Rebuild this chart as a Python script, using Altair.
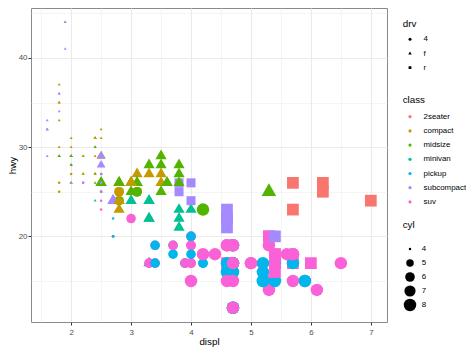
import altair as alt
import pandas as pd

# mpg data: displ, hwy, cyl, drv, class
displ = [1.8,1.8,2.0,2.0,2.8,2.8,3.1,1.8,1.8,2.0,2.0,2.8,2.8,3.1,3.1,2.8,3.1,4.2,
         5.3,5.3,5.3,5.7,6.0,5.7,5.7,6.2,6.2,7.0,5.3,5.3,5.7,6.5,2.4,2.4,3.1,3.5,3.6,
         2.4,3.0,3.3,3.3,3.3,3.3,3.3,3.8,3.8,3.8,4.0,3.7,3.7,3.9,3.9,4.7,4.7,4.7,5.2,5.2,
         3.9,4.7,4.7,4.7,5.2,5.7,5.9,4.7,4.7,4.7,4.7,4.7,4.7,5.2,5.2,5.7,5.9,
         4.6,5.4,5.4,4.0,4.0,4.0,4.0,4.6,5.0,4.2,4.2,4.6,4.6,4.6,5.4,5.4,3.8,3.8,4.0,4.0,4.6,4.6,4.6,4.6,5.4,
         1.6,1.6,1.6,1.6,1.6,1.8,1.8,1.8,2.0,
         2.4,2.4,2.4,2.4,2.5,2.5,3.3,2.0,2.0,2.0,2.0,2.7,2.7,2.7,
         3.0,3.7,4.0,4.7,4.7,4.7,5.7,6.1,
         4.0,4.2,4.4,4.6,
         5.4,5.4,5.4,
         4.0,4.0,4.6,5.0,
         2.4,2.4,2.5,2.5,3.5,3.5,3.0,3.0,3.5,3.3,3.3,4.0,5.6,
         3.1,3.8,3.8,3.8,5.3,
         2.5,2.5,2.5,2.5,2.5,2.5,2.2,2.2,2.5,2.5,2.5,2.5,2.5,2.5,
         2.7,2.7,3.4,3.4,4.0,4.7,2.2,2.2,2.4,2.4,3.0,3.0,3.5,2.2,2.2,2.4,2.4,3.0,3.0,3.3,
         1.8,1.8,1.8,1.8,1.8,4.7,5.7,2.7,2.7,2.7,3.4,3.4,4.0,4.0,
         2.0,2.0,2.0,2.0,2.8,1.9,2.0,2.0,2.0,2.0,2.5,2.5,2.8,2.8,
         1.9,1.9,2.0,2.0,2.5,2.5,1.8,1.8,2.0,2.0,2.8,2.8,3.6]

hwy = [29,29,31,30,26,26,27,26,25,28,27,25,25,25,25,24,25,23,
       20,15,20,17,17,26,23,26,25,24,19,14,15,17,27,30,26,29,26,
       24,24,22,22,24,24,17,22,21,23,23,19,18,17,17,19,19,12,17,15,
       17,17,12,17,16,18,15,16,12,17,17,16,12,15,16,17,15,
       17,17,18,17,19,17,19,19,17,17,17,16,16,17,15,17,26,25,26,24,21,22,23,22,20,
       33,32,32,29,32,34,36,36,29,
       26,27,30,31,26,26,28,26,29,28,29,24,24,24,
       22,19,20,17,12,19,18,14,
       15,18,18,15,
       17,16,18,
       17,19,19,17,
       29,27,31,32,27,26,26,25,25,17,17,20,18,
       26,26,27,28,25,
       25,24,27,25,26,23,26,26,26,26,25,27,25,27,
       20,20,19,17,20,19,29,27,31,31,26,26,28,27,29,31,31,26,26,27,
       30,33,35,37,35,15,18,20,20,22,17,19,18,20,
       29,26,29,29,24,44,29,26,29,29,29,29,23,24,
       44,41,29,26,28,29,29,29,28,29,26,26,26]

cyl = [4,4,4,4,6,6,6,4,4,4,4,6,6,6,6,6,6,8,
       8,8,8,8,8,8,8,8,8,8,8,8,8,8,4,4,6,6,6,
       4,6,6,6,6,6,6,6,6,6,6,6,6,6,6,8,8,8,8,8,
       6,8,8,8,8,8,8,8,8,8,8,8,8,8,8,8,8,
       8,8,8,6,6,6,6,8,8,6,6,8,8,8,8,8,6,6,6,6,8,8,8,8,8,
       4,4,4,4,4,4,4,4,4,
       4,4,4,4,6,6,6,4,4,4,4,6,6,6,
       6,6,6,8,8,8,8,8,
       8,8,8,8,
       8,8,8,
       6,6,8,8,
       4,4,4,4,6,6,6,6,6,6,6,6,8,
       6,6,6,6,8,
       4,4,4,4,4,4,4,4,4,4,4,4,4,4,
       4,4,6,6,6,8,4,4,4,4,6,6,6,4,4,4,4,6,6,6,
       4,4,4,4,4,8,8,4,4,4,6,6,6,6,
       4,4,4,4,6,4,4,4,4,4,5,5,6,6,
       4,4,4,4,5,5,4,4,4,4,6,6,6]

drv = (["f"]*7 + ["4"]*11 +
       ["r"]*10 + ["4"]*4 + ["f"]*5 +
       ["f"]*11 + ["4"]*26 +
       ["r"]*3 + ["4"]*13 + ["r"]*9 +
       ["f"]*9 +
       ["f"]*14 +
       ["4"]*8 +
       ["4"]*4 +
       ["r"]*3 +
       ["4"]*4 +
       ["f"]*9 + ["4"]*4 +
       ["f"]*5 +
       ["4"]*14 +
       ["4"]*6 + ["f"]*19 + ["4"]*9 +
       ["f"]*27)

cls = (["compact"]*15 + ["midsize"]*3 +
       ["suv"]*5 + ["2seater"]*5 + ["suv"]*4 + ["midsize"]*5 +
       ["minivan"]*11 + ["pickup"]*9 + ["suv"]*7 + ["pickup"]*10 +
       ["suv"]*9 + ["pickup"]*7 + ["subcompact"]*9 +
       ["subcompact"]*9 +
       ["midsize"]*7 + ["subcompact"]*7 +
       ["suv"]*8 +
       ["suv"]*4 +
       ["suv"]*3 +
       ["suv"]*4 +
       ["compact"]*6 + ["midsize"]*3 + ["suv"]*4 +
       ["midsize"]*5 +
       ["suv"]*6 + ["subcompact"]*4 + ["compact"]*2 + ["subcompact"]*2 +
       ["suv"]*6 + ["midsize"]*7 + ["compact"]*12 + ["suv"]*2 + ["pickup"]*7 +
       ["compact"]*14 + ["subcompact"]*6 + ["midsize"]*7)

classes = ["2seater", "compact", "midsize", "minivan", "pickup", "subcompact", "suv"]
class_colors = ["#F8766D", "#C49A00", "#53B400", "#00C094", "#00B6EB", "#A58AFF", "#FB61D7"]
drv_levels = ["4", "f", "r"]
cyl_levels = [4, 5, 6, 7, 8]
x_ticks = [1.5, 2, 2.5, 3, 3.5, 4, 4.5, 5, 5.5, 6, 6.5, 7]
y_ticks = [15, 20, 25, 30, 35, 40, 45]

df = pd.DataFrame({"displ": displ, "hwy": hwy, "cyl": cyl, "drv": drv, "class": cls})

FONT = "Liberation Sans"
TRI = "M0,-1.35L1.17,0.67L-1.17,0.67Z"
SQR = "M-0.94,-0.94L0.94,-0.94L0.94,0.94L-0.94,0.94Z"

LEFT = 23
W, H = 356, 314
LX = 371.7

chart = alt.Chart(df).mark_point(filled=True, opacity=1, strokeWidth=0).encode(
    x=alt.X("displ:Q", title="displ",
            scale=alt.Scale(domain=[1.33, 7.27], nice=False, zero=False),
            axis=alt.Axis(values=x_ticks,
                          labelExpr="datum.value % 1 === 0 ? format(datum.value, 'd') : ''",
                          tickOpacity={"condition": {"test": "datum.value % 1 !== 0", "value": 0}, "value": 1},
                          gridWidth={"condition": {"test": "datum.value % 1 !== 0", "value": 0.5}, "value": 1.1},
                          titlePadding=0.5, labelPadding=3)),
    y=alt.Y("hwy:Q", title="hwy",
            scale=alt.Scale(domain=[10.4, 45.6], nice=False, zero=False),
            axis=alt.Axis(values=y_ticks,
                          labelExpr="datum.value % 10 === 0 ? format(datum.value, 'd') : ''",
                          tickOpacity={"condition": {"test": "datum.value % 10 !== 0", "value": 0}, "value": 1},
                          gridWidth={"condition": {"test": "datum.value % 10 !== 0", "value": 0.5}, "value": 1.1},
                          titlePadding=0.5, labelPadding=1)),
    shape=alt.Shape("drv:N", title="drv",
                    scale=alt.Scale(domain=drv_levels, range=["circle", TRI, SQR]),
                    legend=alt.Legend(orient="none", legendX=LX, legendY=11.3,
                                      symbolFillColor="black", symbolStrokeWidth=0,
                                      symbolSize=9, titlePadding=3.2, rowPadding=0.2,
                                      clipHeight=14,
                                      symbolOffset=3.35, labelOffset=9.6)),
    color=alt.Color("class:N", title="class",
                    scale=alt.Scale(domain=classes, range=class_colors),
                    legend=alt.Legend(orient="none", legendX=LX, legendY=87.3,
                                      symbolType="circle", symbolSize=10, symbolStrokeWidth=0,
                                      titlePadding=4.6, rowPadding=0.2, clipHeight=14,
                                      symbolOffset=3.35, labelOffset=9.6)),
    size=alt.Size("cyl:Q", title="cyl",
                  scale=alt.Scale(domain=cyl_levels, range=[6.25, 56, 92, 125, 156]),
                  legend=alt.Legend(orient="none", legendX=LX, legendY=212.3,
                                    values=cyl_levels, symbolType="circle",
                                    symbolFillColor="black", symbolStrokeWidth=0,
                                    titlePadding=11.9, rowPadding=0, clipHeight=14,
                                    symbolOffset=0.8, labelOffset=5.3)),
).properties(
    width=W, height=H,
    autosize=alt.AutoSizeParams(type="none"),
    padding={"left": LEFT, "top": 0, "right": 474 - 16 - LEFT - W, "bottom": 339 - H},
).configure_view(
    stroke="#8a8a8a", strokeWidth=1
).configure_axis(
    labelFont=FONT, titleFont=FONT, labelFontSize=7.9, titleFontSize=9.8,
    labelColor="#4D4D4D", titleColor="black", titleFontWeight="normal",
    gridColor="#EBEBEB", domain=False, tickColor="#333333", tickSize=3,
).configure_legend(
    labelFont=FONT, titleFont=FONT, labelFontSize=7.9, titleFontSize=9.8,
    labelColor="black", titleColor="black", titleFontWeight="normal",
)

chart.save("out.html", embed_options={"renderer": "svg", "actions": False})
